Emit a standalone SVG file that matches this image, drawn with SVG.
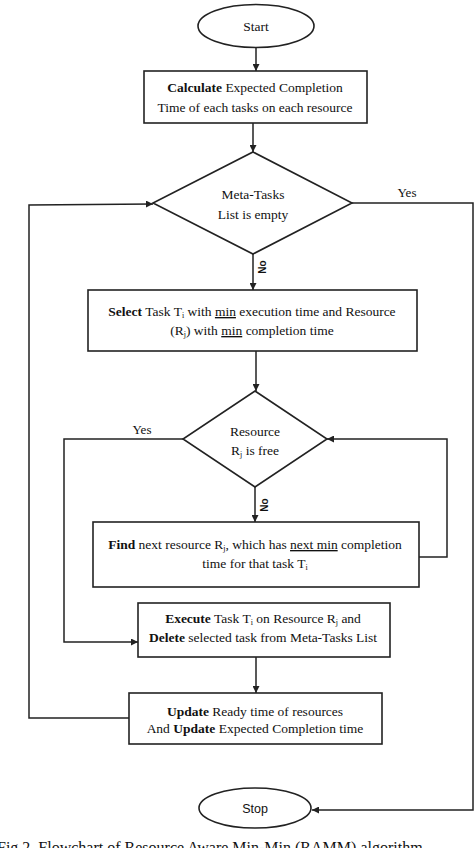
<svg xmlns="http://www.w3.org/2000/svg" width="474" height="848" viewBox="0 0 474 848">
<style>
.shape{fill:#fff;stroke:#222;stroke-width:1.6}
.conn{fill:none;stroke:#222;stroke-width:1.5}
text{font-family:"Liberation Serif","Times New Roman",serif;font-size:13.5px;fill:#111;text-anchor:middle}
.b{font-weight:bold}
.sub{font-size:8px}
.u{text-decoration:underline}
.lbl{font-size:13px}
.no{font-family:"Liberation Sans",Arial,sans-serif;font-size:10px;font-weight:bold}
.cap{font-size:16px;text-anchor:start}
</style>
<defs>
<marker id="ah" viewBox="0 0 10 10" refX="10" refY="5" markerWidth="7" markerHeight="7" markerUnits="userSpaceOnUse" orient="auto">
<path d="M0,0 L10,5 L0,10 z" fill="#222"/>
</marker>
</defs>
<rect width="474" height="848" fill="#fff"/>
<g id="connectors">
<line class="conn" x1="256" y1="47" x2="256" y2="71" marker-end="url(#ah)"/>
<line class="conn" x1="253" y1="123" x2="253" y2="152" marker-end="url(#ah)"/>
<line class="conn" x1="253" y1="254" x2="253" y2="290" marker-end="url(#ah)"/>
<line class="conn" x1="256" y1="351" x2="256" y2="391" marker-end="url(#ah)"/>
<line class="conn" x1="255" y1="487" x2="255" y2="522" marker-end="url(#ah)"/>
<polyline class="conn" points="183,439 64,439 64,642 138,642" marker-end="url(#ah)"/>
<polyline class="conn" points="419,557 447,557 447,439 327,439" marker-end="url(#ah)"/>
<line class="conn" x1="256" y1="657" x2="256" y2="693" marker-end="url(#ah)"/>
<polyline class="conn" points="129,718 29,718 29,205 153,204" marker-end="url(#ah)"/>
<polyline class="conn" points="352,203 473,203 473,810 312,810" marker-end="url(#ah)"/>
<text class="lbl" x="407" y="197">Yes</text>
<text class="lbl" x="142" y="434">Yes</text>
<text class="no" transform="translate(266,267) rotate(-90)">No</text>
<text class="no" transform="translate(268,505) rotate(-90)">No</text>
</g>
<g id="start">
<ellipse class="shape" cx="256" cy="26" rx="58" ry="21.5"/>
<text x="256" y="31">Start</text>
</g>
<g id="calculate">
<rect class="shape" x="144" y="71" width="223" height="52"/>
<text x="255" y="92"><tspan class="b">Calculate</tspan> Expected Completion</text>
<text x="255" y="112">Time of each tasks on each resource</text>
</g>
<g id="meta-empty">
<polygon class="shape" points="253,152 352,203 253,254 153,203"/>
<text x="253" y="199">Meta-Tasks</text>
<text x="253" y="219">List is empty</text>
</g>
<g id="select">
<rect class="shape" x="88" y="290" width="329" height="61"/>
<text x="252" y="316"><tspan class="b">Select</tspan> Task T<tspan class="sub" dy="2">i</tspan><tspan dy="-2"> with </tspan><tspan class="u">min</tspan> execution time and Resource</text>
<text x="252" y="335">(R<tspan class="sub" dy="2">j</tspan><tspan dy="-2">) with </tspan><tspan class="u">min</tspan> completion time</text>
</g>
<g id="resource-free">
<polygon class="shape" points="255,391 327,439 255,487 183,439"/>
<text x="255" y="436">Resource</text>
<text x="255" y="455">R<tspan class="sub" dy="2">j</tspan><tspan dy="-2"> is free</tspan></text>
</g>
<g id="find">
<rect class="shape" x="93" y="522" width="326" height="65"/>
<text x="255" y="549"><tspan class="b">Find</tspan> next resource R<tspan class="sub" dy="2">j</tspan><tspan dy="-2">, which has </tspan><tspan class="u">next min</tspan> completion</text>
<text x="255" y="568">time for that task T<tspan class="sub" dy="2">i</tspan></text>
</g>
<g id="execute">
<rect class="shape" x="138" y="603" width="252" height="54"/>
<text x="263" y="623"><tspan class="b">Execute</tspan> Task T<tspan class="sub" dy="2">i</tspan><tspan dy="-2"> on Resource R</tspan><tspan class="sub" dy="2">j</tspan><tspan dy="-2"> and</tspan></text>
<text x="263" y="642"><tspan class="b">Delete</tspan> selected task from Meta-Tasks List</text>
</g>
<g id="update">
<rect class="shape" x="129" y="693" width="253" height="51"/>
<text x="255" y="716"><tspan class="b">Update</tspan> Ready time of resources</text>
<text x="255" y="733">And <tspan class="b">Update</tspan> Expected Completion time</text>
</g>
<g id="stop">
<ellipse class="shape" cx="255" cy="808" rx="56" ry="20"/>
<text x="255" y="813" style="font-family:'Liberation Sans',Arial,sans-serif;font-size:12.5px">Stop</text>
</g>
<text class="cap" x="-3" y="853">Fig.2. Flowchart of Resource Aware Min-Min (RAMM) algorithm</text>
</svg>
